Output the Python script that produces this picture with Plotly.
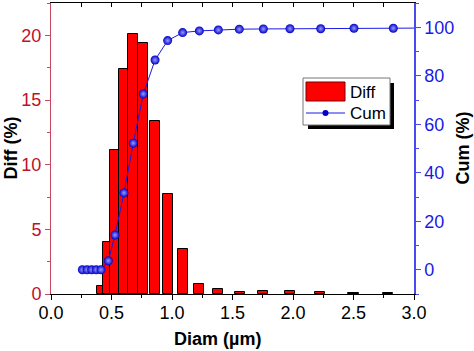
import plotly.graph_objects as go

# Data
diam_bins = [0.419, 0.474, 0.532, 0.603, 0.680, 0.763, 0.860, 0.970, 1.093,
             1.226, 1.383, 1.562, 1.755, 1.975, 2.226, 2.500, 2.788]
diff_pct = [0.62, 4.0, 11.1, 17.4, 20.1, 19.4, 13.4, 7.7, 3.45,
            0.75, 0.39, 0.18, 0.25, 0.20, 0.13, 0.08, 0.10]

cum_diam = [0.259, 0.298, 0.336, 0.374, 0.413, 0.474, 0.529, 0.603, 0.680,
            0.763, 0.860, 0.964, 1.088, 1.226, 1.383, 1.556, 1.755, 1.975,
            2.229, 2.504, 2.829, 3.17]
cum_pct = [0.0, 0.0, 0.0, 0.0, 0.0, 3.7, 14.3, 31.7, 52.2,
           72.5, 86.5, 94.5, 97.8, 98.5, 98.9, 99.2, 99.3, 99.4,
           99.4, 99.6, 99.6, 99.7]

x_ticks = [0.0, 0.5, 1.0, 1.5, 2.0, 2.5, 3.0]
legend_names = ["Diff", "Cum"]

RED = "#c0102c"
RED_LINE = "#c84a60"
BLUE = "#1a1ae6"
BLUE_LINE = "#4a4af0"
FONT = "Liberation Sans, Arial, sans-serif"

# plot-area geometry in pixels (for legend box placement)
L, R, T, B = 51, 414, 3, 294
def px(x):
    return (x - L) / (R - L)
def py(y):
    return (B - y) / (B - T)

fig = go.Figure()
fig.add_trace(go.Bar(
    x=diam_bins, y=diff_pct, name=legend_names[0], width=0.083,
    marker=dict(color="#ff0000", line=dict(color="#000000", width=1)),
    yaxis="y", xaxis="x", showlegend=False,
))
fig.add_trace(go.Scatter(
    x=cum_diam, y=cum_pct, name=legend_names[1], mode="lines+markers",
    line=dict(color=BLUE, width=1),
    marker=dict(size=9, color="#0000c8",
                gradient=dict(type="radial", color="#9a9aff"),
                line=dict(width=0)),
    yaxis="y2", xaxis="x", showlegend=False,
))
# invisible trace to make the top axis render
fig.add_trace(go.Scatter(x=[None], y=[None], xaxis="x2", yaxis="y",
                         showlegend=False, hoverinfo="skip"))

shapes = [
    # legend shadow
    dict(type="rect", xref="paper", yref="paper",
         x0=px(308), x1=px(394), y0=py(129), y1=py(83),
         fillcolor="black", line=dict(width=0), layer="above"),
    # legend box
    dict(type="rect", xref="paper", yref="paper",
         x0=px(303), x1=px(390), y0=py(125), y1=py(78),
         fillcolor="white", line=dict(color="#777777", width=1), layer="above"),
    # Diff patch
    dict(type="rect", xref="paper", yref="paper",
         x0=px(306), x1=px(345), y0=py(101), y1=py(82),
         fillcolor="#ff0000", line=dict(color="#7a0000", width=1), layer="above"),
    # Cum line
    dict(type="line", xref="paper", yref="paper",
         x0=px(306), x1=px(345), y0=py(113), y1=py(113),
         line=dict(color=BLUE, width=1), layer="above"),
    # Cum marker
    dict(type="circle", xref="paper", yref="paper",
         x0=px(322.5), x1=px(328.5), y0=py(116), y1=py(110),
         fillcolor="#0000c8", line=dict(width=0), layer="above"),
]

fig.update_layout(
    width=474, height=351,
    margin=dict(l=L, r=474 - R, t=T, b=351 - B),
    paper_bgcolor="white", plot_bgcolor="white",
    font=dict(family=FONT, size=18, color="black"),
    bargap=0, showlegend=False,
    xaxis=dict(
        range=[0, 3], tickvals=x_ticks, ticktext=[f"{v:.1f}" for v in x_ticks],
        ticks="outside", ticklen=5, tickwidth=1, tickcolor="black",
        minor=dict(dtick=0.25, ticks="outside", ticklen=3, tickcolor="black"),
        showline=True, linecolor="black", linewidth=1, showgrid=False,
        zeroline=False, tickfont=dict(size=18, color="black"),
        ticklabelstandoff=-3,
    ),
    xaxis2=dict(
        range=[0, 3], overlaying="x", side="top", matches="x",
        dtick=0.25, ticks="inside", ticklen=4, tickcolor="black",
        showticklabels=False, showline=True, linecolor="black",
        showgrid=False, zeroline=False, anchor="y",
    ),
    yaxis=dict(
        range=[0, 22.5], dtick=5, ticks="outside", ticklen=5,
        tickcolor=RED_LINE,
        minor=dict(dtick=2.5, ticks="outside", ticklen=3, tickcolor=RED_LINE),
        showline=True, linecolor=RED_LINE, linewidth=1, showgrid=False,
        zeroline=False, tickfont=dict(size=18, color=RED),
    ),
    yaxis2=dict(
        range=[-10, 110], tickvals=[0, 20, 40, 60, 80, 100],
        overlaying="y", side="right", anchor="x",
        ticks="outside", ticklen=5, tickcolor=BLUE_LINE,
        minor=dict(dtick=10, ticks="outside", ticklen=3, tickcolor=BLUE_LINE),
        showline=True, linecolor=BLUE_LINE, linewidth=1.5, showgrid=False,
        zeroline=False, tickfont=dict(size=18, color=BLUE),
    ),
    shapes=shapes,
    annotations=[
        dict(text=legend_names[0], xref="paper", yref="paper",
             x=px(349), y=py(92), xanchor="left", yanchor="middle",
             showarrow=False, borderpad=0, font=dict(size=17, color="black")),
        dict(text=legend_names[1], xref="paper", yref="paper",
             x=px(349), y=py(113), xanchor="left", yanchor="middle",
             showarrow=False, borderpad=0, font=dict(size=17, color="black")),
        dict(text="<b>Diff (%)</b>", xref="paper", yref="paper",
             x=px(10), y=0.5, xanchor="center", yanchor="middle",
             textangle=-90, showarrow=False, font=dict(size=18, color="black")),
        dict(text="<b>Cum (%)</b>", xref="paper", yref="paper",
             x=px(462), y=0.5, xanchor="center", yanchor="middle",
             textangle=-90, showarrow=False, font=dict(size=18, color="black")),
        dict(text="<b>Diam (µm)</b>", xref="paper", yref="paper",
             x=px(217), y=py(339), xanchor="center",
             yanchor="middle", showarrow=False,
             font=dict(size=18, color="black")),
    ],
)

fig.write_html("out.html")
